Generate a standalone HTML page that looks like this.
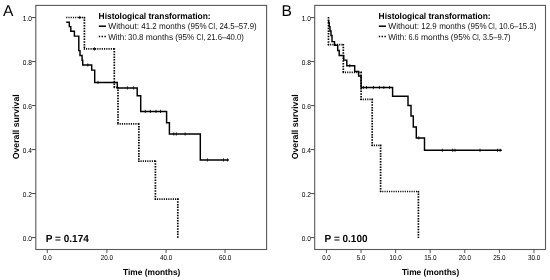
<!DOCTYPE html>
<html><head><meta charset="utf-8"><title>Figure</title>
<style>
html,body{margin:0;padding:0;background:#fff;}
body{width:550px;height:280px;overflow:hidden;}
svg{display:block;}
svg text{font-family:"Liberation Sans", Arial, sans-serif;text-rendering:geometricPrecision;}
</style></head>
<body>
<svg width="550" height="280" viewBox="0 0 550 280">
<rect width="550" height="280" fill="#fff"/>
<rect x="35.8" y="5.4" width="230.8" height="244.1" fill="#fff" stroke="#5a5a5a" stroke-width="1.1"/>
<path d="M31.6,17.6H35.8" stroke="#333" stroke-width="0.9"/>
<text x="22.8" y="20.9" font-size="7.2" fill="#000" textLength="9.1" lengthAdjust="spacingAndGlyphs">1.0</text>
<path d="M31.6,61.6H35.8" stroke="#333" stroke-width="0.9"/>
<text x="22.8" y="64.9" font-size="7.2" fill="#000" textLength="9.1" lengthAdjust="spacingAndGlyphs">0.8</text>
<path d="M31.6,105.6H35.8" stroke="#333" stroke-width="0.9"/>
<text x="22.8" y="108.9" font-size="7.2" fill="#000" textLength="9.1" lengthAdjust="spacingAndGlyphs">0.6</text>
<path d="M31.6,149.6H35.8" stroke="#333" stroke-width="0.9"/>
<text x="22.8" y="152.9" font-size="7.2" fill="#000" textLength="9.1" lengthAdjust="spacingAndGlyphs">0.4</text>
<path d="M31.6,193.6H35.8" stroke="#333" stroke-width="0.9"/>
<text x="22.8" y="196.9" font-size="7.2" fill="#000" textLength="9.1" lengthAdjust="spacingAndGlyphs">0.2</text>
<path d="M31.6,237.6H35.8" stroke="#333" stroke-width="0.9"/>
<text x="22.8" y="240.9" font-size="7.2" fill="#000" textLength="9.1" lengthAdjust="spacingAndGlyphs">0.0</text>
<path d="M47.3,249.5V253.1" stroke="#444" stroke-width="0.9"/>
<text x="43.1" y="260.2" font-size="7.2" fill="#000" textLength="8.6" lengthAdjust="spacingAndGlyphs">0.0</text>
<path d="M106.9,249.5V253.1" stroke="#444" stroke-width="0.9"/>
<text x="100.85" y="260.2" font-size="7.2" fill="#000" textLength="12.3" lengthAdjust="spacingAndGlyphs">20.0</text>
<path d="M166.1,249.5V253.1" stroke="#444" stroke-width="0.9"/>
<text x="160.05" y="260.2" font-size="7.2" fill="#000" textLength="12.3" lengthAdjust="spacingAndGlyphs">40.0</text>
<path d="M225.0,249.5V253.1" stroke="#444" stroke-width="0.9"/>
<text x="218.95" y="260.2" font-size="7.2" fill="#000" textLength="12.3" lengthAdjust="spacingAndGlyphs">60.0</text>
<text x="151.7" y="274.8" font-size="8.6" font-weight="bold" text-anchor="middle" textLength="57.4" lengthAdjust="spacingAndGlyphs">Time (months)</text>
<text transform="translate(19.4,126.8) rotate(-90)" font-size="8.9" font-weight="bold" text-anchor="middle" textLength="65" lengthAdjust="spacingAndGlyphs">Overall survival</text>
<text transform="translate(2.9,15.95) scale(1,1)" font-size="15.6">A</text>
<text x="45.8" y="242.1" font-size="10.3" font-weight="bold" textLength="43.0" lengthAdjust="spacingAndGlyphs">P = 0.174</text>
<text x="98.6" y="18.7" font-size="8.8" font-weight="bold" textLength="112" lengthAdjust="spacingAndGlyphs">Histological transformation:</text>
<path d="M98.8,26.2H106.0" stroke="#000" stroke-width="1.5"/>
<path d="M98.8,36.5H105.8" stroke="#000" stroke-width="1.4" stroke-dasharray="1.4 1.4"/>
<text y="28.95" font-size="8.6" fill="#111"><tspan x="108.22" textLength="30.87" lengthAdjust="spacingAndGlyphs">Without:</tspan> <tspan x="141.26" textLength="15.35" lengthAdjust="spacingAndGlyphs">41.2</tspan> <tspan x="159.05" textLength="26.49" lengthAdjust="spacingAndGlyphs">months</tspan> <tspan x="187.75" textLength="18.79" lengthAdjust="spacingAndGlyphs">(95%</tspan> <tspan x="208.30" textLength="8.91" lengthAdjust="spacingAndGlyphs">CI,</tspan> <tspan x="219.46" textLength="37.09" lengthAdjust="spacingAndGlyphs">24.5–57.9)</tspan></text>
<text y="39.5" font-size="8.6" fill="#111"><tspan x="108.22" textLength="18.27" lengthAdjust="spacingAndGlyphs">With:</tspan> <tspan x="128.08" textLength="15.43" lengthAdjust="spacingAndGlyphs">30.8</tspan> <tspan x="145.65" textLength="27.59" lengthAdjust="spacingAndGlyphs">months</tspan> <tspan x="175.35" textLength="18.89" lengthAdjust="spacingAndGlyphs">(95%</tspan> <tspan x="196.60" textLength="8.71" lengthAdjust="spacingAndGlyphs">CI,</tspan> <tspan x="206.96" textLength="36.79" lengthAdjust="spacingAndGlyphs">21.6–40.0)</tspan></text>
<path d="M66.2,17.5H85.0" fill="none" stroke="#000" stroke-width="1.7" stroke-dasharray="1.1 1.15"/>
<path d="M84.4,16.9V49.5" fill="none" stroke="#000" stroke-width="1.7" stroke-dasharray="1.5 1.2"/>
<path d="M83.8,48.9H114.9" fill="none" stroke="#000" stroke-width="1.7" stroke-dasharray="1.1 1.15"/>
<path d="M114.3,48.3V88.1" fill="none" stroke="#000" stroke-width="1.7" stroke-dasharray="1.5 1.2"/>
<path d="M113.7,87.5H118.6" fill="none" stroke="#000" stroke-width="1.7" stroke-dasharray="1.1 1.15"/>
<path d="M118.0,86.9V124.4" fill="none" stroke="#000" stroke-width="1.7" stroke-dasharray="1.5 1.2"/>
<path d="M117.4,123.8H139.5" fill="none" stroke="#000" stroke-width="1.7" stroke-dasharray="1.1 1.15"/>
<path d="M138.9,123.2V161.8" fill="none" stroke="#000" stroke-width="1.7" stroke-dasharray="1.5 1.2"/>
<path d="M138.3,161.2H156.0" fill="none" stroke="#000" stroke-width="1.7" stroke-dasharray="1.1 1.15"/>
<path d="M155.4,160.6V199.7" fill="none" stroke="#000" stroke-width="1.7" stroke-dasharray="1.5 1.2"/>
<path d="M154.8,199.1H178.4" fill="none" stroke="#000" stroke-width="1.7" stroke-dasharray="1.1 1.15"/>
<path d="M177.8,198.5V237.9" fill="none" stroke="#000" stroke-width="1.7" stroke-dasharray="1.5 1.2"/>
<path d="M78.2,17.5H81.4M79.8,15.9V19.1" stroke="#000" stroke-width="0.9" fill="none"/>
<path d="M92.8,48.9H96.0M94.4,47.3V50.5" stroke="#000" stroke-width="0.9" fill="none"/>
<path d="M66.2,22.2H69.3V26.6H70.8V31.3H74.4V36.1H78.8V50.6H80V55.5H82.1V60.2H82.7V65H91.7V70.1H94.7V82.4H117.3V87.9H137.2V95.7H140.7V111.4H166.6V122.8H169.4V134H200.3V159.9H228.8" fill="none" stroke="#000" stroke-width="1.45" stroke-linejoin="miter"/>
<path d="M87.8,63.4V66.6" stroke="#000" stroke-width="0.8" fill="none"/>
<path d="M98,80.8V84.0" stroke="#000" stroke-width="0.8" fill="none"/>
<path d="M127.4,86.3V89.5" stroke="#000" stroke-width="0.8" fill="none"/><path d="M133.6,86.3V89.5" stroke="#000" stroke-width="0.8" fill="none"/>
<path d="M145.3,109.8V113.0" stroke="#000" stroke-width="0.8" fill="none"/><path d="M150.4,109.8V113.0" stroke="#000" stroke-width="0.8" fill="none"/><path d="M156,109.8V113.0" stroke="#000" stroke-width="0.8" fill="none"/><path d="M160.5,109.8V113.0" stroke="#000" stroke-width="0.8" fill="none"/>
<path d="M173.8,132.4V135.6" stroke="#000" stroke-width="0.8" fill="none"/><path d="M176.3,132.4V135.6" stroke="#000" stroke-width="0.8" fill="none"/><path d="M185.2,132.4V135.6" stroke="#000" stroke-width="0.8" fill="none"/>
<path d="M207.4,158.3V161.5" stroke="#000" stroke-width="0.8" fill="none"/><path d="M223.5,158.3V161.5" stroke="#000" stroke-width="0.8" fill="none"/><path d="M227.4,158.3V161.5" stroke="#000" stroke-width="0.8" fill="none"/>
<rect x="314.7" y="5.4" width="230.8" height="244.1" fill="#fff" stroke="#5a5a5a" stroke-width="1.1"/>
<path d="M310.5,17.6H314.7" stroke="#333" stroke-width="0.9"/>
<text x="301.7" y="20.9" font-size="7.2" fill="#000" textLength="9.1" lengthAdjust="spacingAndGlyphs">1.0</text>
<path d="M310.5,61.6H314.7" stroke="#333" stroke-width="0.9"/>
<text x="301.7" y="64.9" font-size="7.2" fill="#000" textLength="9.1" lengthAdjust="spacingAndGlyphs">0.8</text>
<path d="M310.5,105.6H314.7" stroke="#333" stroke-width="0.9"/>
<text x="301.7" y="108.9" font-size="7.2" fill="#000" textLength="9.1" lengthAdjust="spacingAndGlyphs">0.6</text>
<path d="M310.5,149.6H314.7" stroke="#333" stroke-width="0.9"/>
<text x="301.7" y="152.9" font-size="7.2" fill="#000" textLength="9.1" lengthAdjust="spacingAndGlyphs">0.4</text>
<path d="M310.5,193.6H314.7" stroke="#333" stroke-width="0.9"/>
<text x="301.7" y="196.9" font-size="7.2" fill="#000" textLength="9.1" lengthAdjust="spacingAndGlyphs">0.2</text>
<path d="M310.5,237.6H314.7" stroke="#333" stroke-width="0.9"/>
<text x="301.7" y="240.9" font-size="7.2" fill="#000" textLength="9.1" lengthAdjust="spacingAndGlyphs">0.0</text>
<path d="M326.4,249.5V253.1" stroke="#444" stroke-width="0.9"/>
<text x="322.2" y="260.2" font-size="7.2" fill="#000" textLength="8.6" lengthAdjust="spacingAndGlyphs">0.0</text>
<path d="M361.0,249.5V253.1" stroke="#444" stroke-width="0.9"/>
<text x="356.8" y="260.2" font-size="7.2" fill="#000" textLength="8.6" lengthAdjust="spacingAndGlyphs">5.0</text>
<path d="M395.6,249.5V253.1" stroke="#444" stroke-width="0.9"/>
<text x="389.55" y="260.2" font-size="7.2" fill="#000" textLength="12.3" lengthAdjust="spacingAndGlyphs">10.0</text>
<path d="M430.2,249.5V253.1" stroke="#444" stroke-width="0.9"/>
<text x="424.15" y="260.2" font-size="7.2" fill="#000" textLength="12.3" lengthAdjust="spacingAndGlyphs">15.0</text>
<path d="M464.8,249.5V253.1" stroke="#444" stroke-width="0.9"/>
<text x="458.75" y="260.2" font-size="7.2" fill="#000" textLength="12.3" lengthAdjust="spacingAndGlyphs">20.0</text>
<path d="M499.4,249.5V253.1" stroke="#444" stroke-width="0.9"/>
<text x="493.35" y="260.2" font-size="7.2" fill="#000" textLength="12.3" lengthAdjust="spacingAndGlyphs">25.0</text>
<path d="M534.0,249.5V253.1" stroke="#444" stroke-width="0.9"/>
<text x="527.95" y="260.2" font-size="7.2" fill="#000" textLength="12.3" lengthAdjust="spacingAndGlyphs">30.0</text>
<text x="430.6" y="274.8" font-size="8.6" font-weight="bold" text-anchor="middle" textLength="57.4" lengthAdjust="spacingAndGlyphs">Time (months)</text>
<text transform="translate(298.3,126.8) rotate(-90)" font-size="8.9" font-weight="bold" text-anchor="middle" textLength="65" lengthAdjust="spacingAndGlyphs">Overall survival</text>
<text transform="translate(281.4,15.95) scale(1,1)" font-size="15.6">B</text>
<text x="324.6" y="242.1" font-size="10.3" font-weight="bold" textLength="43.0" lengthAdjust="spacingAndGlyphs">P = 0.100</text>
<text x="378.6" y="18.7" font-size="8.8" font-weight="bold" textLength="112" lengthAdjust="spacingAndGlyphs">Histological transformation:</text>
<path d="M378.8,26.2H386.0" stroke="#000" stroke-width="1.5"/>
<path d="M378.8,36.5H385.8" stroke="#000" stroke-width="1.4" stroke-dasharray="1.4 1.4"/>
<text y="28.95" font-size="8.6" fill="#111"><tspan x="388.22" textLength="30.87" lengthAdjust="spacingAndGlyphs">Without:</tspan> <tspan x="421.31" textLength="15.31" lengthAdjust="spacingAndGlyphs">12.9</tspan> <tspan x="439.15" textLength="26.39" lengthAdjust="spacingAndGlyphs">months</tspan> <tspan x="467.75" textLength="18.79" lengthAdjust="spacingAndGlyphs">(95%</tspan> <tspan x="488.30" textLength="8.41" lengthAdjust="spacingAndGlyphs">CI,</tspan> <tspan x="498.91" textLength="37.35" lengthAdjust="spacingAndGlyphs">10.6–15.3)</tspan></text>
<text y="39.5" font-size="8.6" fill="#111"><tspan x="388.22" textLength="18.27" lengthAdjust="spacingAndGlyphs">With:</tspan> <tspan x="408.48" textLength="10.13" lengthAdjust="spacingAndGlyphs">6.6</tspan> <tspan x="420.95" textLength="27.89" lengthAdjust="spacingAndGlyphs">months</tspan> <tspan x="450.85" textLength="19.29" lengthAdjust="spacingAndGlyphs">(95%</tspan> <tspan x="472.20" textLength="8.41" lengthAdjust="spacingAndGlyphs">CI,</tspan> <tspan x="482.68" textLength="27.97" lengthAdjust="spacingAndGlyphs">3.5–9.7)</tspan></text>
<path d="M328.5,16.9V45.3" fill="none" stroke="#000" stroke-width="1.7" stroke-dasharray="1.5 1.2"/>
<path d="M327.9,44.7H343.9" fill="none" stroke="#000" stroke-width="1.7" stroke-dasharray="1.1 1.15"/>
<path d="M343.3,44.1V72.9" fill="none" stroke="#000" stroke-width="1.7" stroke-dasharray="1.5 1.2"/>
<path d="M342.7,72.3H361.7" fill="none" stroke="#000" stroke-width="1.7" stroke-dasharray="1.1 1.15"/>
<path d="M361.1,71.7V100.0" fill="none" stroke="#000" stroke-width="1.7" stroke-dasharray="1.5 1.2"/>
<path d="M360.5,99.4H372.8" fill="none" stroke="#000" stroke-width="1.7" stroke-dasharray="1.1 1.15"/>
<path d="M372.2,98.8V146.0" fill="none" stroke="#000" stroke-width="1.7" stroke-dasharray="1.5 1.2"/>
<path d="M371.6,145.4H381.2" fill="none" stroke="#000" stroke-width="1.7" stroke-dasharray="1.1 1.15"/>
<path d="M380.6,144.8V192.1" fill="none" stroke="#000" stroke-width="1.7" stroke-dasharray="1.5 1.2"/>
<path d="M380.0,191.5H419.0" fill="none" stroke="#000" stroke-width="1.7" stroke-dasharray="1.1 1.15"/>
<path d="M418.4,190.9V237.9" fill="none" stroke="#000" stroke-width="1.7" stroke-dasharray="1.5 1.2"/>
<path d="M328.6,20.2V22.4H329.2V26.6H330V31H331V35.5H332V41.6H334.5V45.2H337.7V50.5H339.2V55.5H343.7V60.1H346.8V65.7H354.7V71.4H358.6V75.9H361.1V87.5H392.6V96.2H408V105.5H411V116H413.3V127H416.3V137.9H424.5V150.3H501.8" fill="none" stroke="#000" stroke-width="1.45" stroke-linejoin="miter"/>
<path d="M349.8,64.1V67.3" stroke="#000" stroke-width="0.8" fill="none"/>
<path d="M363.4,85.9V89.1" stroke="#000" stroke-width="0.8" fill="none"/><path d="M366.5,85.9V89.1" stroke="#000" stroke-width="0.8" fill="none"/><path d="M373.4,85.9V89.1" stroke="#000" stroke-width="0.8" fill="none"/><path d="M379.4,85.9V89.1" stroke="#000" stroke-width="0.8" fill="none"/><path d="M383.8,85.9V89.1" stroke="#000" stroke-width="0.8" fill="none"/><path d="M389.6,85.9V89.1" stroke="#000" stroke-width="0.8" fill="none"/>
<path d="M418.8,136.3V139.5" stroke="#000" stroke-width="0.8" fill="none"/>
<path d="M442.3,148.7V151.9" stroke="#000" stroke-width="0.8" fill="none"/><path d="M452.7,148.7V151.9" stroke="#000" stroke-width="0.8" fill="none"/><path d="M455,148.7V151.9" stroke="#000" stroke-width="0.8" fill="none"/><path d="M480,148.7V151.9" stroke="#000" stroke-width="0.8" fill="none"/><path d="M497.5,148.7V151.9" stroke="#000" stroke-width="0.8" fill="none"/><path d="M500.1,148.7V151.9" stroke="#000" stroke-width="0.8" fill="none"/>
</svg>
</body></html>
